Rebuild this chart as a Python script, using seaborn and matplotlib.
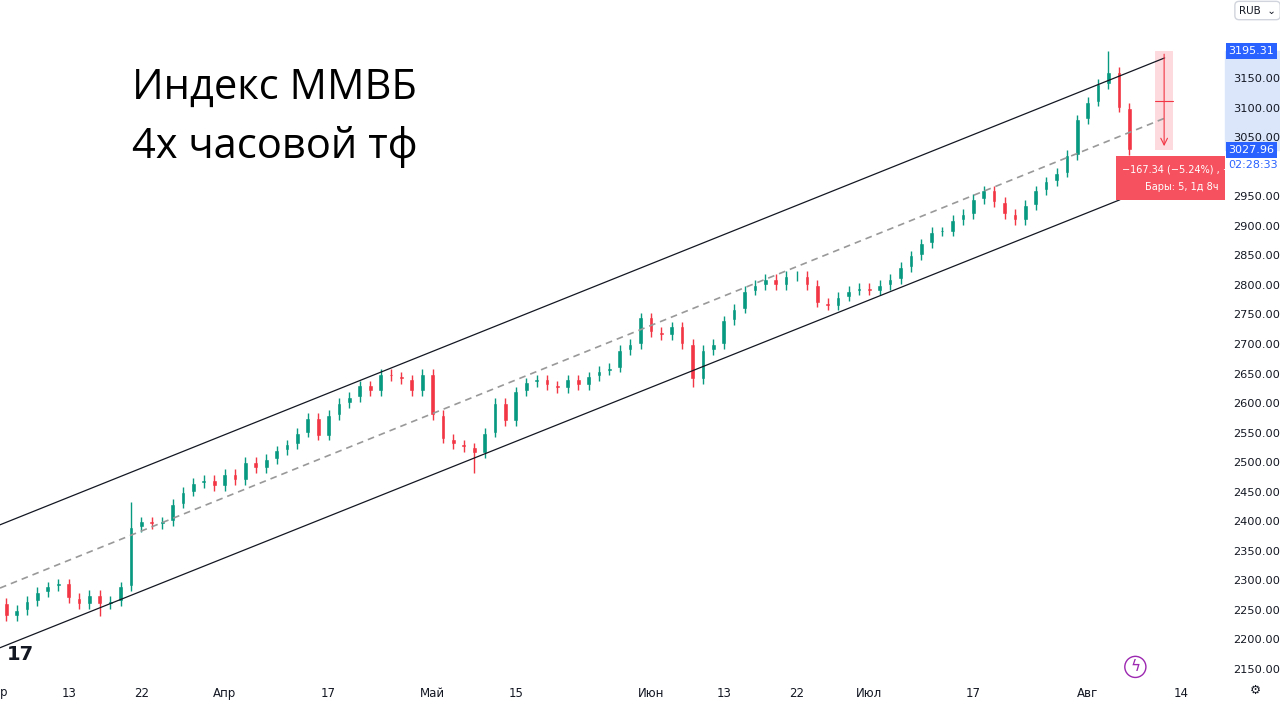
import numpy as np
import pandas as pd
import seaborn as sns
import matplotlib.pyplot as plt
from matplotlib.patches import Rectangle

# %% data: daily closes (approx.) of the MOEX index, 2023
holidays = ['2023-03-08', '2023-05-01', '2023-05-09', '2023-06-12']
closes = [2240, 2250,
          2265, 2280, 2290, 2295,
          2270, 2260, 2275, 2260, 2265,
          2290, 2390, 2400, 2395, 2400,
          2430, 2450, 2465, 2470, 2460,
          2480, 2470, 2500, 2490, 2505,
          2520, 2530, 2550, 2575, 2545,
          2580, 2600, 2610, 2630, 2620,
          2650, 2645, 2640, 2620, 2650,
          2580, 2540, 2530, 2525,
          2515, 2550, 2600, 2570,
          2620, 2635, 2640, 2630, 2625,
          2640, 2630, 2645, 2655, 2660,
          2690, 2700, 2745, 2720, 2715,
          2730, 2700, 2640, 2690, 2700,
          2740, 2760, 2790, 2800,
          2810, 2800, 2815, 2815, 2800,
          2770, 2765, 2780, 2790, 2795,
          2790, 2800, 2810, 2830, 2850,
          2870, 2890, 2890, 2910, 2920,
          2945, 2960, 2940, 2920, 2910,
          2935, 2960, 2975, 2990, 3020,
          3080, 3110, 3140, 3160, 3100,
          3028]
first_open = 2262
wick = 8
extremes = {'2023-05-08': (None, 2482), '2023-06-07': (None, 2628), '2023-08-03': (3195, None),
            '2023-03-16': (None, 2240), '2023-03-21': (2432, None), '2023-05-31': (2752, None)}

tick_dates = ['2023-03-13', '2023-03-22', '2023-04-03', '2023-04-17', '2023-05-02', '2023-05-15',
              '2023-06-01', '2023-06-13', '2023-06-22', '2023-07-03', '2023-07-17', '2023-08-01', '2023-08-14']
tick_labels = ['13', '22', 'Апр', '17', 'Май', '15', 'Июн', '13', '22', 'Июл', '17', 'Авг', '14']

upper_ch = ([-0.6, 111.4], [2394, 3184])
lower_ch = ([-0.6, 107.1], [2186, 2944])
mid_ch = ([-0.6, 111.4], [2287, 3082])

# %%
days = pd.bdate_range('2023-03-02', '2023-08-25')
days = days[~days.isin(pd.to_datetime(holidays))]
df = pd.DataFrame({'date': days[:len(closes)], 'close': closes})
df['x'] = np.arange(len(df))
df['open'] = [first_open] + closes[:-1]
df['high'] = df[['open', 'close']].max(axis=1) + wick
df['low'] = df[['open', 'close']].min(axis=1) - wick
for d, (h, l) in extremes.items():
    m = df['date'] == pd.Timestamp(d)
    if h: df.loc[m, 'high'] = h
    if l: df.loc[m, 'low'] = l

sns.set_theme(style="white")
plt.rcParams['font.family'] = ['DejaVu Sans']
fig = plt.figure(figsize=(12.8, 7.02), dpi=100)
ax = fig.add_axes([0, 0.031, 0.957, 0.969])

up, dn = '#089981', '#F23645'
colors = np.where(df['close'] >= df['open'], up, dn)
ax.vlines(df['x'], df['low'], df['high'], colors=colors, lw=1)
ax.bar(df['x'], (df['close'] - df['open']).abs().clip(lower=2),
       bottom=df[['open', 'close']].min(axis=1), width=0.45, color=colors)

for xs, ys in [upper_ch, lower_ch]:
    sns.lineplot(x=xs, y=ys, ax=ax, color='#131722', lw=0.9)
sns.lineplot(x=mid_ch[0], y=mid_ch[1], ax=ax, color='#999999', lw=1.2, linestyle=(0, (4, 3)))

ax.set_xlim(-0.6, 117.2)
ax.set_ylim(2131, 3282)

# date ticks
tpos = [days.get_loc(pd.Timestamp(d)) for d in tick_dates]
ax.set_xticks(tpos)
ax.set_xticklabels(tick_labels, fontsize=8.5, color='#131722')
ax.tick_params(axis='x', length=0, pad=5)
ax.text(0.0, -0.018, 'р', transform=ax.transAxes, ha='left', va='center',
        fontsize=8.5, color='#131722')

yt = [v for v in range(2150, 3200, 50) if v != 3000]
ax.yaxis.tick_right()
ax.set_yticks(yt)
ax.set_yticklabels([f'{v:.2f}' for v in yt], fontsize=8.2, color='#131722')
ax.tick_params(axis='y', length=0, pad=6)
for s in ax.spines.values():
    s.set_visible(False)
ax.grid(False)

# price scale highlights
tr = ax.get_yaxis_transform()
ax.add_patch(Rectangle((1.0, 3028), 0.045, 3195.31 - 3028, transform=tr, color='#dbe6fb', clip_on=False, zorder=0))
for price, lab in [(3195.31, '3195.31'), (3027.96, '3027.96')]:
    ax.text(1.003, price, lab, transform=tr, ha='left', va='center', fontsize=8, color='white',
            bbox=dict(boxstyle='square,pad=0.25', fc='#2962ff', ec='none'), clip_on=False)
ax.text(1.003, 3003, '02:28:33', transform=tr, ha='left', va='center', fontsize=8, color='#2962ff', clip_on=False)

# measure tool
ax.add_patch(Rectangle((110.5, 3027.96), 1.7, 3195.31 - 3027.96, color='#f23645', alpha=0.18, lw=0))
ax.annotate('', xy=(111.35, 3030), xytext=(111.35, 3195), arrowprops=dict(arrowstyle='->', color='#f23645', lw=0.8))
ax.plot([110.5, 112.2], [3111, 3111], color='#f23645', lw=0.8)
ax.add_patch(Rectangle((106.7, 2944), 10.6, 74, color='#f5515f', lw=0, zorder=5))
ax.text(107.3, 2995, '−167.34 (−5.24%) , −1', fontsize=7, color='white', zorder=6, va='center')
ax.text(109.5, 2965, 'Бары: 5, 1д 8ч', fontsize=7, color='white', zorder=6, va='center')

# title text
fig.text(0.103, 0.875, 'Индекс ММВБ', fontsize=30, color='black', family=['Open Sans', 'DejaVu Sans'], va='center')
fig.text(0.103, 0.79, '4х часовой тф', fontsize=30, color='black', family=['Open Sans', 'DejaVu Sans'], va='center')

# decorations
fig.text(0.005, 0.06, '17', fontsize=14, fontweight='bold', color='#131722')
fig.text(0.887, 0.05, 'ϟ', fontsize=11, color='#9c27b0', ha='center', va='center',
         bbox=dict(boxstyle='circle,pad=0.2', fc='white', ec='#9c27b0', lw=1))
fig.text(0.968, 0.985, 'RUB  ⌄', fontsize=7.5, color='#131722', va='center',
         bbox=dict(boxstyle='round,pad=0.4', fc='white', ec='#d1d4dc'))
fig.text(0.981, 0.017, '⚙', fontsize=9, color='#131722', ha='center', va='center')

fig.savefig('out.png', dpi=100)
